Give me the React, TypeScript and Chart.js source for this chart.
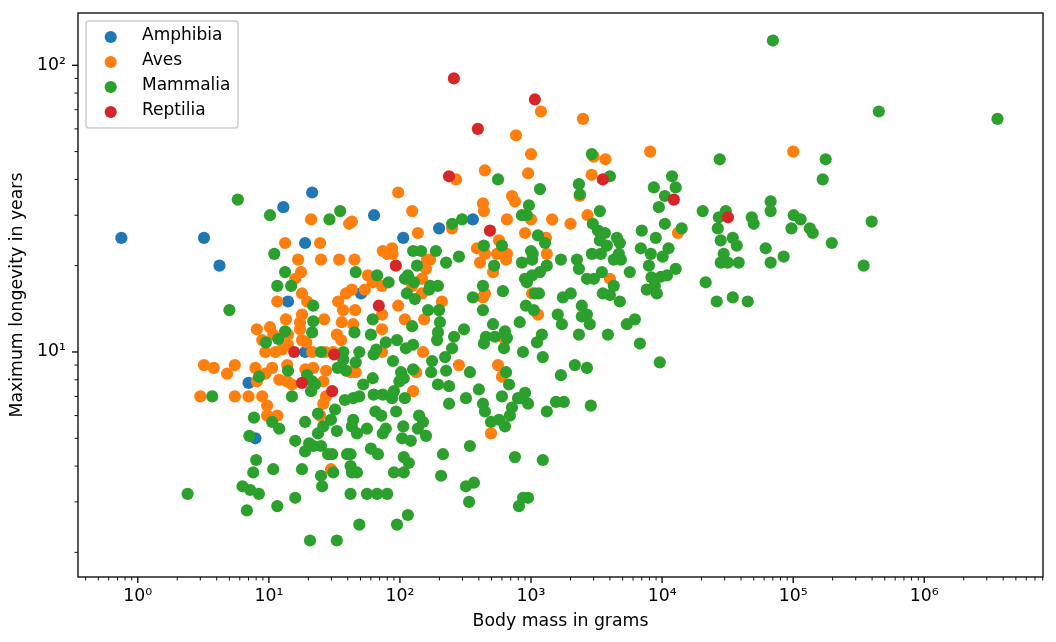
import React, { useEffect, useRef } from 'react';
import { Chart, registerables, Plugin } from 'chart.js';

Chart.register(...registerables);

const classNames = ['Amphibia', 'Aves', 'Mammalia', 'Reptilia'];
const classColors = ['#1f77b4', '#ff7f0e', '#2ca02c', '#d62728'];

const amphibiaMass = [0.75, 3.2, 4.2, 12.9, 21.4, 18.9, 14, 7, 18.9, 7.9, 63.5, 106, 199, 360, 50.5];
const amphibiaLongevity = [25, 25, 20, 32, 36, 24, 15, 7.8, 10, 5, 30, 25, 27, 29, 16];

const avesMass = [
  1000, 950, 3000, 3700, 2900, 8100, 2350, 2700, 1000, 1450,
  2000, 900, 1300, 1320, 13200, 4000, 268, 445, 97, 124,
  137, 43, 250, 716, 754, 430, 437, 655, 570, 387,
  445, 550, 655, 645, 408, 513, 45, 74, 87, 80,
  88, 161, 158, 170, 57, 62, 54, 73, 43, 147,
  124, 147, 445, 430, 209, 97, 73, 45.5, 44, 73,
  109, 153, 73, 150, 282, 133, 126, 46, 560, 600,
  633, 42, 495, 1020, 1130, 100000, 1190, 2490, 768, 21,
  41, 13.3, 24.6, 16.7, 25, 34.4, 17.6, 15.9, 17.9, 38.8,
  11.6, 33.8, 19.6, 36.8, 36, 17.9, 17.3, 26.4, 13.5, 8.1,
  10.2, 10.8, 14, 17.3, 17.9, 19.3, 8.9, 14, 33, 35.6,
  9.4, 11.2, 12.6, 21.4, 27, 31, 3.2, 3.8, 5.5, 4.8,
  7.9, 10.6, 9.4, 13.8, 19, 21.8, 27.3, 8.1, 12, 13.8,
  15, 26, 3, 5.5, 7, 8.9, 9.7, 9.7, 11.6, 27.3,
  26, 24.6, 29.8,
];
const avesLongevity = [
  49, 42, 48, 47, 41.5, 50, 35, 30, 29, 29,
  28, 26, 25, 22, 26, 18, 40, 43, 36, 31,
  26, 28.5, 27, 35, 33.5, 33, 31, 29, 24.5, 23,
  22, 22, 22, 21, 20.5, 19, 21, 22.5, 23, 22,
  22, 21, 19.5, 21, 18.5, 17.5, 16.5, 17, 16.5, 18,
  17, 16, 16, 15.5, 15, 14.5, 13.5, 14, 12.5, 12,
  13, 13, 10, 10, 9, 8.5, 7.3, 8.5, 9, 8.2,
  11, 8.5, 5.2, 16, 13.5, 50, 69, 65, 57, 29,
  28, 24, 24, 21, 21, 21, 19, 18, 16, 16,
  15, 15, 15, 14, 12.7, 13.5, 12.7, 13, 13, 12,
  12.2, 11.5, 11.5, 12, 11, 10.8, 11, 10.6, 11.5, 11,
  10, 10, 10.2, 10, 10, 10, 9, 8.8, 9, 8.4,
  8.8, 8.8, 8.4, 9, 8.7, 8.8, 8.6, 7.9, 8, 7.9,
  7.7, 7.9, 7, 7, 7, 7, 6.5, 6, 6, 7,
  6.6, 6, 3.9,
];

const mammaliaMass = [
  70000, 450000, 3620000, 27500, 177000, 168000, 20400, 30600, 27100, 48300,
  50000, 67300, 67300, 101000, 114000, 97000, 134000, 141000, 197000, 397000,
  26600, 28000, 34600, 37100, 61700, 84600, 67300, 29500, 31700, 28000,
  38400, 345000, 21500, 26100, 34600, 45000, 2910, 4000, 11900, 12700,
  8650, 10500, 9450, 2320, 2360, 1170, 964, 852, 930, 3350,
  2960, 10500, 14100, 7000, 8950, 6880, 11200, 8200, 10100, 7930,
  12700, 10900, 9800, 8300, 3240, 3660, 3350, 4520, 4760, 3790,
  2910, 3410, 4680, 4280, 4850, 5670, 3470, 2670, 3020, 1690,
  2240, 2320, 1130, 1280, 1000, 1030, 1020, 852, 1320, 1170,
  1020, 900, 930, 7640, 8800, 9120, 4280, 3530, 4000, 4760,
  2010, 1750, 1150, 1070, 914, 1050, 1600, 2440, 2670, 2440,
  2810, 1720, 6200, 5380, 2320, 3860, 1210, 1110, 6770, 868,
  1230, 9600, 2160, 2670, 1690, 900, 950, 840, 1550, 1780,
  2860, 1320, 820, 560, 250, 298, 126, 145, 188, 282,
  225, 437, 600, 523, 46, 67, 82, 135, 115, 109,
  128, 170, 195, 167, 113, 130, 430, 360, 610, 164,
  199, 202, 195, 192, 308, 259, 430, 513, 633, 655,
  531, 453, 437, 622, 124, 62, 60, 45, 78, 95,
  126, 111, 66, 63, 49, 46, 88.5, 250, 221, 176,
  173, 225, 342, 645, 126, 102, 107, 99, 62, 52.5,
  195, 237, 400, 680, 90, 87, 74, 63, 49, 44,
  109, 600, 796, 319, 237, 430, 445, 716, 690, 65,
  72, 93.5, 140, 150, 106, 495, 570, 633, 44, 43,
  56, 47, 78, 74, 137, 158, 104, 121, 342, 213,
  754, 60, 68, 107, 117, 90, 107, 42, 42, 43,
  47, 206, 367, 319, 56, 67, 80, 42, 337, 809,
  870, 950, 115, 95, 49, 1230, 5.8, 10.2, 29, 35,
  11, 13.3, 11.6, 14.8, 21.8, 21.8, 21.4, 13.3, 11.8, 9.5,
  5, 25, 37, 37, 33.5, 38.8, 14, 8.4, 19.6, 21.4,
  22.5, 21, 3.7, 15, 38, 32, 23.7, 7.7, 10.6, 18.9,
  29.8, 26, 23.7, 33, 12, 7.1, 15.9, 20.3, 25, 21.8,
  18.9, 28.3, 30.4, 39.5, 8, 10.8, 17.9, 7.6, 6.3, 7.2,
  8.4, 25, 31, 25.5, 15.9, 11.6, 6.8, 2.4, 20.6, 33,
];
const mammaliaLongevity = [
  122, 69, 65, 47, 47, 40, 31, 31, 29.5, 29.5,
  28, 33.5, 31, 30, 29, 27, 27, 26, 24, 28.5,
  27, 24.5, 25, 23.5, 23, 21.5, 20.5, 22, 20.5, 20.5,
  20.5, 20, 17.5, 15, 15.5, 15, 49, 41, 41, 37.5,
  37.5, 35, 32, 38.5, 35.5, 37, 32.5, 30, 30, 31,
  28, 28, 27, 26.5, 25, 23, 23, 22, 21.5, 20,
  19.5, 18.5, 18.3, 18.2, 26.5, 26, 24.5, 25, 24, 23.5,
  22, 22, 22, 21, 21, 19, 19, 18, 18, 21,
  21, 19.5, 25.5, 24, 22.5, 22, 21, 20.5, 20, 19,
  18.5, 18, 17.5, 16.5, 17, 16, 17, 16, 15.8, 15,
  16, 15.5, 16, 16, 14.5, 14, 13.5, 14.5, 13.5, 13.3,
  12.5, 12.5, 13, 12.5, 11.5, 11.5, 11.5, 10.8, 10.7, 10,
  9.6, 9.2, 9, 8.8, 8.3, 7.2, 6.6, 6.9, 6.7, 6.7,
  6.5, 6.2, 12.7, 40, 28, 29, 22.5, 22.5, 22.5, 21.5,
  20.5, 23.5, 23.5, 20, 19, 18.5, 17.5, 20, 18.5, 18,
  17.5, 17, 17, 16.5, 16, 15.3, 17, 15.5, 16.3, 14,
  14, 12.7, 11.7, 11, 12, 11.3, 14, 12.5, 11.8, 11.2,
  11.3, 11.3, 10.7, 10.3, 12.3, 13, 11.5, 11.7, 10.8, 11,
  10.6, 10.3, 10.2, 9.8, 10, 9.2, 9.3, 10.3, 9.6, 9.3,
  8.5, 8.6, 8.5, 8.5, 8.7, 8.5, 8.1, 7.9, 8.1, 7.7,
  7.7, 7.6, 7.4, 7.7, 7.3, 6.9, 7.1, 7.1, 7, 6.9,
  6.9, 7, 6.9, 6.9, 6.6, 6.6, 6.2, 6.4, 6, 6.2,
  6, 6.2, 6, 5.7, 5.5, 5.7, 5.8, 5.5, 5.8, 5.5,
  5.4, 5.2, 5.4, 5.2, 5.4, 5.1, 5, 4.9, 4.7, 4.4,
  4.3, 4.6, 4.4, 4.3, 4.1, 3.8, 3.8, 4.4, 4, 3.8,
  3.8, 3.7, 3.5, 3.4, 3.2, 3.2, 3.2, 3.2, 3, 2.9,
  3.1, 3.1, 2.7, 2.5, 2.5, 4.2, 34, 30, 29, 31,
  22, 19, 17, 17, 14.5, 12.8, 11.7, 11.8, 11.1, 10.8,
  14, 10, 10, 9.4, 8.8, 8.6, 8.6, 8.2, 8.3, 7.9,
  7.7, 7.3, 7, 7, 6.8, 6.3, 6.1, 5.9, 5.7, 5.7,
  5.8, 5.5, 5.2, 5.3, 5.4, 5.1, 4.9, 4.8, 4.7, 4.7,
  4.5, 4.4, 4.4, 4.4, 4.2, 3.9, 3.9, 3.8, 3.4, 3.3,
  3.2, 3.7, 3.8, 3.4, 3.1, 2.9, 2.8, 3.2, 2.2, 2.2,
];

const reptiliaMass = [258, 1070, 393, 237, 486, 3530, 12300, 31800, 93, 69, 15.6, 31.5, 17.9, 30.4];
const reptiliaLongevity = [90, 76, 60, 41, 26.5, 40, 34, 29.5, 20, 14.5, 10, 9.8, 7.8, 7.3];

const xMajorTicks = [1, 10, 100, 1000, 10000, 100000, 1000000];
const xTickLabels = ['10⁰', '10¹', '10²', '10³', '10⁴', '10⁵', '10⁶'];
const yMajorTicks = [10, 100];
const yTickLabels = ['10¹', '10²'];
const minorSteps = [2, 3, 4, 5, 6, 7, 8, 9];
const xMinorDecades = [0.1, 1, 10, 100, 1000, 10000, 100000, 1000000];
const yMinorDecades = [1, 10];

const xMin = 0.35;
const xMax = 8050000;
const yMin = 1.641;
const yMax = 152.2;

const toPoints = (xs: number[], ys: number[]) => xs.map((x, i) => ({ x, y: ys[i] }));

const FONT = '"DejaVu Sans"';
const FONT_SIZE = 17.3;
const INK = '#000000';

// matplotlib style frame, ticks and legend box; chart.js can't do these directly
const framePlugin: Plugin<'scatter'> = {
  id: 'frame',
  afterDraw(chart) {
    const { ctx, chartArea: area, scales } = chart;
    const { left, right, top, bottom } = area;
    ctx.save();
    ctx.strokeStyle = '#111111';

    ctx.lineWidth = 1.4;
    const tickX = (value: number, len: number) => {
      const px = scales.x.getPixelForValue(value);
      if (px < left || px > right) return;
      ctx.beginPath();
      ctx.moveTo(px, bottom);
      ctx.lineTo(px, bottom + len);
      ctx.stroke();
    };
    const tickY = (value: number, len: number) => {
      const py = scales.y.getPixelForValue(value);
      if (py < top || py > bottom) return;
      ctx.beginPath();
      ctx.moveTo(left, py);
      ctx.lineTo(left - len, py);
      ctx.stroke();
    };
    xMajorTicks.forEach(v => tickX(v, 6));
    yMajorTicks.forEach(v => tickY(v, 6));
    ctx.lineWidth = 1;
    xMinorDecades.forEach(d => minorSteps.forEach(s => tickX(d * s, 3.5)));
    yMinorDecades.forEach(d => minorSteps.forEach(s => tickY(d * s, 3.5)));

    ctx.lineWidth = 1.4;
    ctx.strokeRect(left, top, right - left, bottom - top);

    // legend
    ctx.beginPath();
    ctx.roundRect(86, 21, 152, 107, 3);
    ctx.fillStyle = 'rgba(255,255,255,0.8)';
    ctx.fill();
    ctx.strokeStyle = '#cccccc';
    ctx.lineWidth = 1.4;
    ctx.stroke();
    ctx.font = `17px ${FONT}`;
    ctx.textBaseline = 'middle';
    ctx.textAlign = 'left';
    classNames.forEach((name, i) => {
      const y = 36 + i * 25;
      ctx.beginPath();
      ctx.arc(110.7, y + 1, 6.1, 0, Math.PI * 2);
      ctx.fillStyle = classColors[i];
      ctx.fill();
      ctx.fillStyle = INK;
      ctx.fillText(name, 142, y);
    });
    ctx.restore();
  },
};

export default function App() {
  const canvasRef = useRef<HTMLCanvasElement | null>(null);

  useEffect(() => {
    if (!canvasRef.current) return;
    const series = [
      toPoints(amphibiaMass, amphibiaLongevity),
      toPoints(avesMass, avesLongevity),
      toPoints(mammaliaMass, mammaliaLongevity),
      toPoints(reptiliaMass, reptiliaLongevity),
    ];
    const chart = new Chart(canvasRef.current, {
      type: 'scatter',
      data: {
        datasets: series.map((data, i) => ({
          label: classNames[i],
          data,
          backgroundColor: classColors[i],
          pointRadius: 6.1,
          pointBorderWidth: 0,
          // later classes sit on top, as in the original
          order: classNames.length - i,
        })),
      },
      options: {
        animation: false,
        responsive: false,
        layout: { padding: { top: 13, right: 13, left: 0, bottom: 0 } },
        plugins: { legend: { display: false }, tooltip: { enabled: false } },
        scales: {
          x: {
            type: 'logarithmic',
            min: xMin,
            max: xMax,
            grid: { display: false, drawTicks: false },
            border: { display: false },
            afterBuildTicks: scale => {
              scale.ticks = xMajorTicks.map(value => ({ value, major: true }));
            },
            afterFit: scale => {
              scale.height = 65;
              scale.paddingLeft = 0;
              scale.paddingRight = 0;
            },
            ticks: {
              autoSkip: false,
              maxRotation: 0,
              padding: 9,
              color: INK,
              font: { family: FONT, size: FONT_SIZE },
              callback: value => xTickLabels[xMajorTicks.indexOf(Number(value))] ?? '',
            },
            title: {
              display: true,
              text: 'Body mass in grams',
              color: INK,
              font: { family: FONT, size: FONT_SIZE },
              padding: { top: 0, bottom: 10.5 },
            },
          },
          y: {
            type: 'logarithmic',
            min: yMin,
            max: yMax,
            grid: { display: false, drawTicks: false },
            border: { display: false },
            afterBuildTicks: scale => {
              scale.ticks = yMajorTicks.map(value => ({ value, major: true }));
            },
            afterFit: scale => {
              scale.width = 78;
              scale.paddingTop = 0;
              scale.paddingBottom = 0;
            },
            ticks: {
              autoSkip: false,
              padding: 12,
              color: INK,
              font: { family: FONT, size: FONT_SIZE },
              callback: value => yTickLabels[yMajorTicks.indexOf(Number(value))] ?? '',
            },
            title: {
              display: true,
              text: 'Maximum longevity in years',
              color: INK,
              font: { family: FONT, size: FONT_SIZE },
              padding: { top: 7.5, bottom: 0 },
            },
          },
        },
      },
      plugins: [framePlugin],
    });
    return () => chart.destroy();
  }, []);

  return (
    <div style={{ position: 'absolute', left: 0, top: 0, width: 1056, height: 642, background: '#ffffff' }}>
      <canvas ref={canvasRef} width={1056} height={642} />
    </div>
  );
}
